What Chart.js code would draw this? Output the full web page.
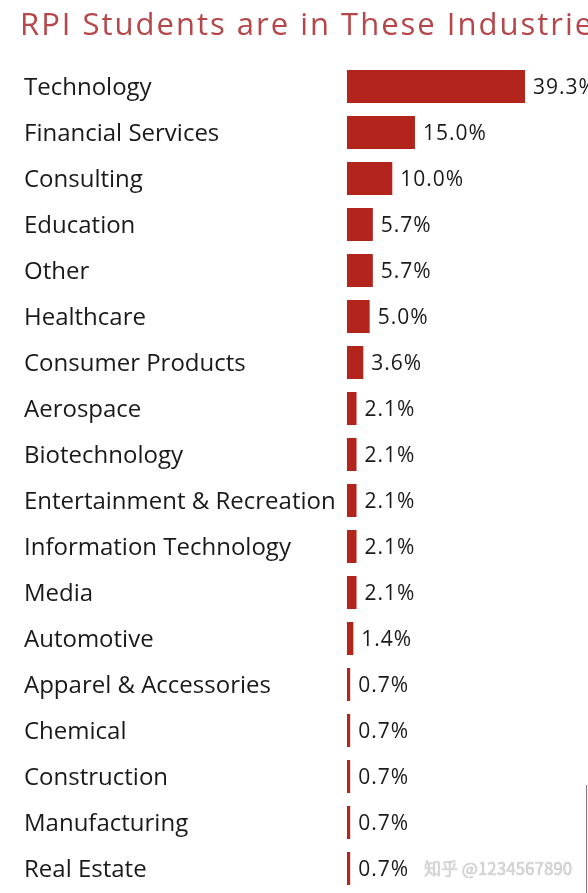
<!DOCTYPE html>
<html>
<head>
<meta charset="utf-8">
<script src="https://cdn.jsdelivr.net/npm/chart.js@4.4.1/dist/chart.umd.min.js"></script>
<style>
  html, body { margin: 0; padding: 0; background: #fff; overflow: hidden; }
  #wrap { position: relative; width: 588px; height: 893px; }
  #marca { position: absolute; left: 424px; top: 855px; font: 17px "Noto Sans CJK SC", "Noto Sans", sans-serif;
           color: #d8d8d8; text-shadow: 0 0 1px #a0a0a0; white-space: nowrap; }
  #linea { position: absolute; left: 586px; top: 785px; width: 1px; height: 108px; background: #a07070; }
</style>
</head>
<body>
<div id="wrap">
  <canvas id="myChart" width="588" height="893"></canvas>
  <div id="marca">知乎 @1234567890</div>
  <div id="linea"></div>
</div>
<script>
const titulo = "RPI Students are in These Industries";
const industrias = ["Technology","Financial Services","Consulting","Education","Other","Healthcare",
  "Consumer Products","Aerospace","Biotechnology","Entertainment & Recreation","Information Technology",
  "Media","Automotive","Apparel & Accessories","Chemical","Construction","Manufacturing","Real Estate"];
const porcentajes = [39.3, 15.0, 10.0, 5.7, 5.7, 5.0, 3.6, 2.1, 2.1, 2.1, 2.1, 2.1, 1.4, 0.7, 0.7, 0.7, 0.7, 0.7];

const fuente = '"Open Sans", "Noto Sans", sans-serif';

// titulo dibujado a mano para que se corte como en la imagen (sin maxWidth)
const pluginTitulo = {
  id: 'pluginTitulo',
  afterDraw(chart) {
    const ctx = chart.ctx;
    ctx.save();
    ctx.font = '31px ' + fuente;
    ctx.letterSpacing = '2px';
    ctx.fillStyle = '#b5474a';
    ctx.textBaseline = 'alphabetic';
    ctx.textAlign = 'left';
    ctx.fillText(titulo, 20, 35);
    ctx.restore();
  }
};

// etiquetas de porcentaje al final de cada barra
const pluginValores = {
  id: 'pluginValores',
  afterDatasetsDraw(chart) {
    const ctx = chart.ctx;
    const meta = chart.getDatasetMeta(0);
    ctx.save();
    ctx.font = '21px ' + fuente;
    ctx.letterSpacing = '1px';
    ctx.fillStyle = '#1a1a1a';
    ctx.textBaseline = 'middle';
    ctx.textAlign = 'left';
    meta.data.forEach(function(barra, i){
      ctx.fillText(porcentajes[i].toFixed(1) + '%', barra.x + 8, barra.y + 2);
    });
    ctx.restore();
  }
};

function graficar(){
  const ctx = document.getElementById('myChart').getContext('2d');
  new Chart(ctx, {
    type: 'bar',
    data: {
      labels: industrias,
      datasets: [{
        data: porcentajes,
        backgroundColor: '#b3241c',
        borderWidth: 0,
        categoryPercentage: 1.0,
        barPercentage: 33 / 46
      }]
    },
    options: {
      indexAxis: 'y',
      responsive: false,
      animation: false,
      devicePixelRatio: 1,
      layout: { padding: { top: 63.5, left: 24, right: 0, bottom: 1.5 } },
      scales: {
        x: { display: false, min: 0, max: 53.2 },
        y: {
          grid: { display: false },
          border: { display: false },
          afterFit(scale) {
            scale.width = 323;
            scale.paddingTop = 0;
            scale.paddingBottom = 0;
          },
          ticks: {
            crossAlign: 'far',
            labelOffset: 1.5,
            color: '#1a1a1a',
            font: { family: fuente, size: 24 },
            autoSkip: false
          }
        }
      },
      plugins: {
        legend: { display: false },
        title: { display: false },
        tooltip: { enabled: false }
      }
    },
    plugins: [pluginTitulo, pluginValores]
  });
}

window.addEventListener("load", graficar);
</script>
</body>
</html>
